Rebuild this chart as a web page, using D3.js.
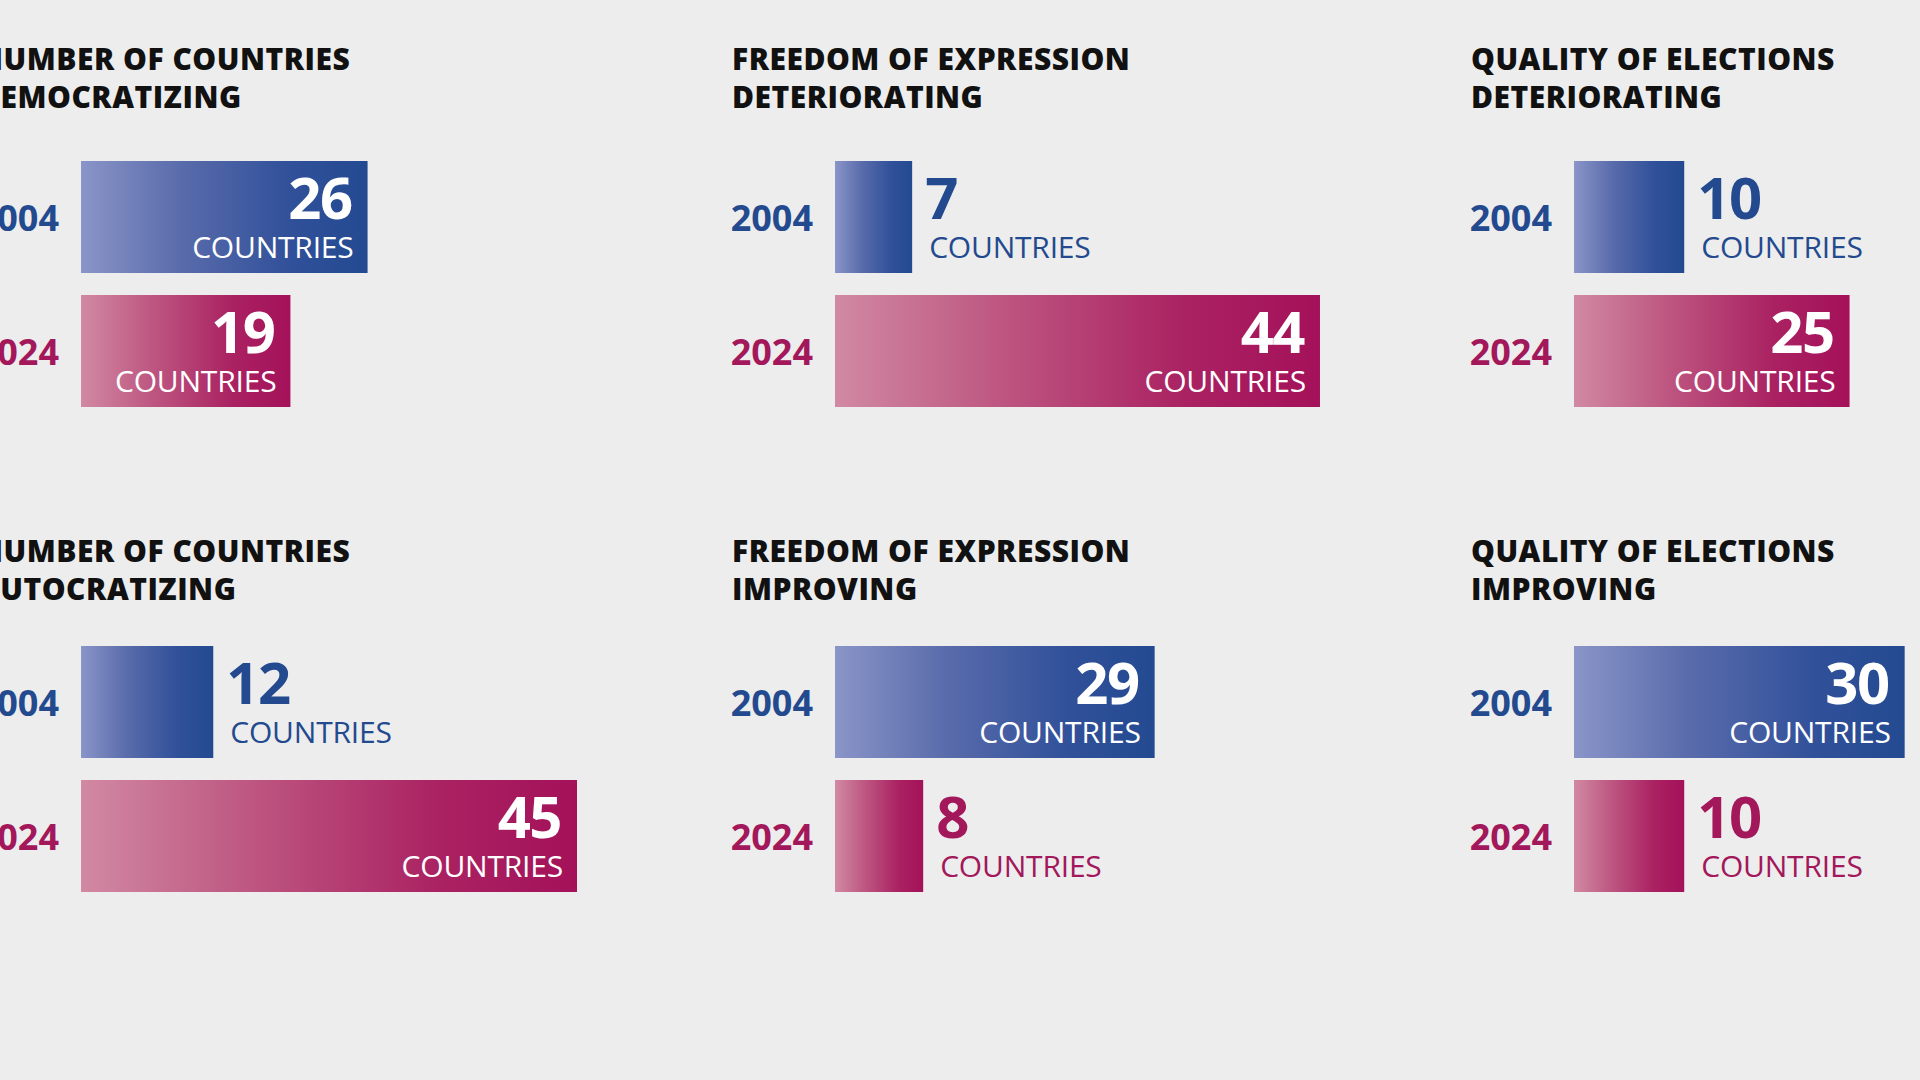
<!DOCTYPE html>
<html>
<head>
<meta charset="utf-8">
<script src="https://cdn.jsdelivr.net/npm/d3@7"></script>
<style>
  body { margin: 0; background: #ededed; }
  svg { display: block; }
</style>
</head>
<body>
<svg id="chart"></svg>
<script>
// panel titles (two lines each), left-to-right, top-to-bottom
const titleLines = [
    ["NUMBER OF COUNTRIES", "DEMOCRATIZING"],
    ["FREEDOM OF EXPRESSION", "DETERIORATING"],
    ["QUALITY OF ELECTIONS", "DETERIORATING"],
    ["NUMBER OF COUNTRIES", "AUTOCRATIZING"],
    ["FREEDOM OF EXPRESSION", "IMPROVING"],
    ["QUALITY OF ELECTIONS", "IMPROVING"]
];
const years = ["2004", "2024"];
const values2004 = [26, 7, 10, 12, 29, 30];
const values2024 = [19, 44, 25, 45, 8, 10];
const unitLabel = "COUNTRIES";

const width = 1920, height = 1080;
const colX = [81, 835, 1574];      // bar start of each column
const rowTop = [161, 646];         // top of first bar in each row
const titleOffset = [91, 84];      // title baseline above first bar

const svg = d3.select("#chart")
              .attr("width", width)
              .attr("height", height);

// gradients
const defs = svg.append("defs");
const gradients = {
    "2004": ["#8a95c8", "#596bab", "#31519a", "#234a91"],
    "2024": ["#d189a2", "#bd5580", "#aa2262", "#a4115a"]
};
Object.entries(gradients).forEach(([yr, stops]) => {
    const g = defs.append("linearGradient")
                  .attr("id", "grad" + yr)
                  .attr("x1", 0).attr("x2", 1).attr("y1", 0).attr("y2", 0);
    [0, 0.35, 0.72, 1].forEach((o, i) => {
        g.append("stop").attr("offset", o).attr("stop-color", stops[i]);
    });
});

const textColor = d3.scaleOrdinal().domain(years).range(["#234a8f", "#a3175b"]);

// scales
const x = d3.scaleLinear().domain([0, 45]).range([0, 496]);
const y = d3.scaleBand().domain(years).range([0, 246]).paddingInner(22 / 134);

const font = "'Open Sans', sans-serif";

titleLines.forEach((lines, i) => {
    const col = i % 3, row = Math.floor(i / 3);
    const g = svg.append("g")
                 .attr("transform", `translate(${colX[col]},${rowTop[row]})`);

    // title
    g.append("text")
     .attr("x", -103)
     .attr("y", -titleOffset[row])
     .attr("fill", "#111")
     .style("font-family", font)
     .style("font-weight", 800)
     .style("font-size", "30px")
     .style("letter-spacing", "0.5px")
     .selectAll("tspan")
     .data(lines)
     .enter()
     .append("tspan")
     .attr("x", -103)
     .attr("dy", (d, j) => j === 0 ? 0 : 38)
     .text(d => d);

    const rows = [
        { year: "2004", value: values2004[i] },
        { year: "2024", value: values2024[i] }
    ];

    rows.forEach(d => {
        const y0 = y(d.year), w = x(d.value), h = y.bandwidth();

        // year label
        g.append("text")
         .attr("x", -22)
         .attr("y", y0 + h / 2 + 14)
         .attr("text-anchor", "end")
         .attr("fill", textColor(d.year))
         .style("font-family", font)
         .style("font-weight", 700)
         .style("font-size", "36px")
         .text(d.year);

        g.append("rect")
         .attr("x", 0)
         .attr("y", y0)
         .attr("width", w)
         .attr("height", h)
         .attr("fill", `url(#grad${d.year})`);

        const inside = w > 185;
        const fill = inside ? "#fff" : textColor(d.year);

        g.append("text")
         .attr("x", inside ? w - 16 : w + 13)
         .attr("y", y0 + 58)
         .attr("text-anchor", inside ? "end" : "start")
         .attr("fill", fill)
         .style("font-family", font)
         .style("font-weight", 700)
         .style("font-size", "58px")
         .style("letter-spacing", "-1.5px")
         .text(d.value);

        g.append("text")
         .attr("x", inside ? w - 14 : w + 17)
         .attr("y", y0 + 97)
         .attr("text-anchor", inside ? "end" : "start")
         .attr("fill", fill)
         .style("font-family", font)
         .style("font-weight", 400)
         .style("font-size", "30px")
         .style("letter-spacing", "-0.2px")
         .text(unitLabel);
    });
});
</script>
</body>
</html>
